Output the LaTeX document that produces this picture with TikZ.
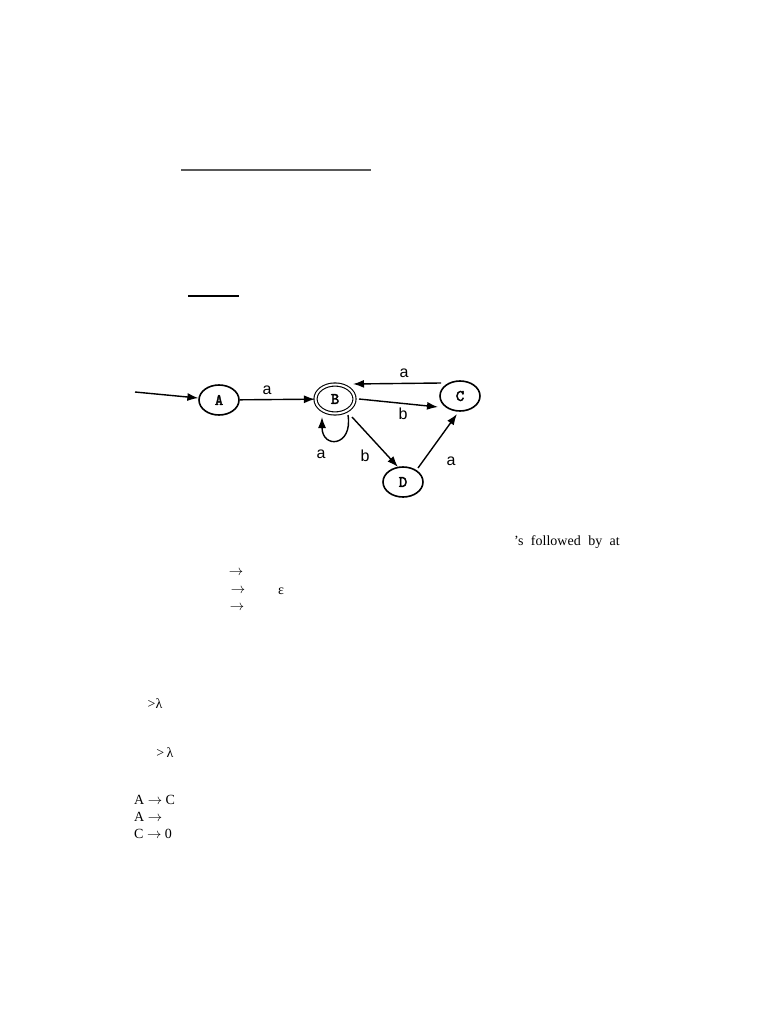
\documentclass[tikz,border=0pt]{standalone}
\usepackage{fontspec}
\setmainfont{Liberation Serif}
\newfontfamily\labelfont{Liberation Sans}
\newfontfamily\statefont[FakeBold=2.5]{lmmono10-regular.otf}
\usetikzlibrary{shapes.geometric,arrows.meta,calc}
\begin{document}
\begin{tikzpicture}[x=1pt,y=-1pt,
  state/.style={ellipse,draw,line width=1.6pt,minimum width=40pt,minimum height=30pt,inner sep=0pt,
    font=\statefont\fontsize{16}{16}\selectfont},
  accept/.style={state,double,line width=1.1pt,double distance=2pt,minimum width=39pt,minimum height=29pt},
  trans/.style={line width=1.4pt,-{Latex[length=11pt,width=8pt]}},
  lab/.style={font=\labelfont\fontsize{16}{16}\selectfont,inner sep=0pt},
  txt/.style={font=\fontsize{14}{16}\selectfont,inner sep=0pt},
  rule/.style={line width=2pt}]
\useasboundingbox (0,0) rectangle (768,1024);
\fill[white] (0,0) rectangle (768,1024);

% rules
\coordinate (r1a) at (181,170); \coordinate (r1b) at (371,170);
\draw[rule,black!65] (r1a) -- (r1b);
\coordinate (r2a) at (188,296); \coordinate (r2b) at (239,296);
\draw[rule,line width=2.4pt] (r2a) -- (r2b);

% automaton
\node[state] (A) at (219,400) {A};
\node[accept] (B) at (335,399) {B};
\node[state] (C) at (460,396) {C};
\node[state] (D) at (403,482) {D};
\coordinate (start) at (135,392);

\draw[trans] (start) -- (A);
\draw[trans] (A) -- (B);
\draw[trans] ($(C)+(-19,-13)$) -- ($(B)+(18,-15)$);
\draw[trans] ($(B)+(24,0)$) -- ($(C)+(-22,11)$);
\draw[trans] ($(B)+(13,16)$) .. controls ($(B)+(18,48)$) and ($(B)+(-13,50)$) .. ($(B)+(-13,18)$);
\draw[trans] ($(B)+(17,18)$) -- ($(D)+(-5,-15)$);
\draw[trans] ($(D)+(15,-14)$) -- ($(C)+(-3,18)$);

\node[lab] (l1) at (267,390) {a};
\node[lab] (l2) at (404,373) {a};
\node[lab] (l3) at (403,414) {b};
\node[lab] (l4) at (321,454) {a};
\node[lab] (l5) at (365,456) {b};
\node[lab] (l6) at (451,461) {a};

% text fragments
\node[txt] (t1) at (567,542) {’s\hspace{4pt} followed\hspace{4pt} by\hspace{4pt} at};
\node[txt] (ar1) at (236,573) {$\rightarrow$};
\node[txt] (ar2) at (238,591) {$\rightarrow$};
\node[txt] (ar3) at (237,608) {$\rightarrow$};
\node[txt] (eps) at (281,591) {ε};
\node[txt] (g1) at (155,704) {>λ};
\node[txt] (g2) at (165,753) {>\,λ};
\node[txt,anchor=west] (p1) at (134,800) {A $\rightarrow$ C};
\node[txt,anchor=west] (p2) at (134,817) {A $\rightarrow$};
\node[txt,anchor=west] (p3) at (134,834) {C $\rightarrow$ 0};
\end{tikzpicture}
\end{document}
